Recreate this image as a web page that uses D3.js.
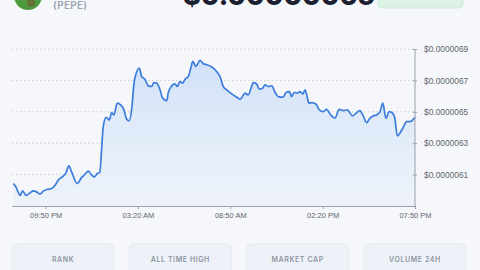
<!DOCTYPE html>
<html>
<head>
<meta charset="utf-8">
<style>
  body { margin: 0; background: #f5f7fa; font-family: Inter, 'Noto Sans', sans-serif; }
  svg { display: block; }
  .grid line { stroke: #c9ced6; stroke-dasharray: 1.5 2.5; }
  .axis text { fill: #5f6670; font-size: 7.5px; font-family: 'Liberation Sans', Arial, sans-serif; }
  .y.axis text { font-size: 8.4px; }
  .axis .domain, .axis .tick line { stroke: #9aa1ab; }
  .card-label { font-size: 7px; font-weight: 600; fill: #8d95a2; letter-spacing: 0.6px; }
</style>
</head>
<body>
<svg width="480" height="270"></svg>
<script src="https://d3js.org/d3.v7.min.js"></script>
<script>
// minutes since 07:50 PM, price in USD
let minutes = [5, 14, 29, 38, 50, 64, 76, 88, 100, 112, 124, 142, 154, 165, 183, 193, 203, 213, 233, 249,
  261, 273, 285, 294, 305, 314, 320, 326, 336, 348, 356, 364, 376, 388, 400, 410, 419, 428, 436, 443,
  455, 463, 475, 487, 499, 507, 517, 529, 538, 553, 558, 571, 582, 591, 600, 610, 618, 630, 639, 646,
  657, 672, 684, 696, 714, 731, 743, 755, 767, 785, 803, 815, 833, 844, 856, 862, 874, 884, 896, 904,
  916, 928, 940, 951, 969, 979, 991, 999, 1008, 1019, 1029, 1039, 1047, 1053, 1061, 1071, 1086, 1098, 1112, 1124,
  1139, 1154, 1169, 1184, 1198, 1217, 1232, 1243, 1255, 1267, 1279, 1291, 1303, 1315, 1325, 1336, 1348, 1360, 1368, 1377,
  1389, 1398, 1410, 1422, 1434, 1440];
let prices = [6.043, 6.021, 5.968, 5.996, 5.968, 5.983, 5.996, 5.990, 5.975, 5.996, 6.005, 6.011, 6.032, 6.064, 6.090, 6.111, 6.156, 6.117, 6.043, 6.082,
  6.103, 6.122, 6.096, 6.085, 6.107, 6.117, 6.256, 6.405, 6.465, 6.448, 6.495, 6.480, 6.555, 6.544, 6.512, 6.452, 6.443, 6.523, 6.683, 6.740,
  6.779, 6.725, 6.708, 6.665, 6.661, 6.686, 6.683, 6.640, 6.587, 6.571, 6.619, 6.665, 6.678, 6.661, 6.693, 6.683, 6.708, 6.725, 6.779, 6.821,
  6.789, 6.827, 6.806, 6.800, 6.785, 6.757, 6.725, 6.661, 6.640, 6.614, 6.593, 6.580, 6.619, 6.608, 6.661, 6.686, 6.678, 6.644, 6.651, 6.672,
  6.661, 6.665, 6.623, 6.597, 6.593, 6.623, 6.629, 6.597, 6.623, 6.619, 6.629, 6.614, 6.640, 6.608, 6.555, 6.559, 6.550, 6.512, 6.501, 6.516,
  6.480, 6.459, 6.516, 6.507, 6.512, 6.474, 6.495, 6.507, 6.474, 6.431, 6.459, 6.474, 6.480, 6.501, 6.555, 6.459, 6.501, 6.491, 6.459, 6.346,
  6.373, 6.401, 6.437, 6.437, 6.452, 6.465].map(d => d * 1e-6);

let xTicks = [120, 450, 780, 1110, 1440];
let xTickLabels = ["09:50 PM", "03:20 AM", "08:50 AM", "02:20 PM", "07:50 PM"];
let yTicks = [6.1e-6, 6.3e-6, 6.5e-6, 6.7e-6, 6.9e-6];
let cardLabels = ["RANK", "ALL TIME HIGH", "MARKET CAP", "VOLUME 24H"];

let data = minutes.map((m, i) => ({ m: m, p: prices[i] }));

let svg = d3.select("svg");

let margin = { top: 49, right: 65, bottom: 64, left: 12 };
let width = 480, height = 270;

let x = d3.scaleLinear().domain([0, 1440]).range([margin.left, width - margin.right]);
let y = d3.scaleLinear().domain([5.9e-6, 6.9e-6]).range([height - margin.bottom, margin.top]);

// header (cut off at the top)
svg.append("circle").attr("cx", 28).attr("cy", -4).attr("r", 14).attr("fill", "#4f9a3f");
svg.append("circle").attr("cx", 31).attr("cy", 3).attr("r", 4).attr("fill", "#7a4a2e").attr("opacity", 0.5);
svg.append("text").attr("x", 53).attr("y", 8.5).text("(PEPE)")
  .attr("fill", "#9aa3b0").attr("font-size", "10px").attr("font-weight", 600).attr("letter-spacing", "0.3px");
svg.append("text").attr("x", 183).attr("y", 5).text("$0.00000065")
  .attr("fill", "#1b2130").attr("font-size", "27px").attr("font-weight", 800);
svg.append("rect").attr("x", 378).attr("y", -10).attr("width", 85).attr("height", 18).attr("rx", 4)
  .attr("fill", "#ddf3e5").attr("stroke", "#cdebd8");

// grid
svg.append("g").attr("class", "grid")
  .selectAll("line").data(yTicks).join("line")
  .attr("x1", margin.left).attr("x2", width - margin.right)
  .attr("y1", d => y(d)).attr("y2", d => y(d));

// area + line
let defs = svg.append("defs");
let grad = defs.append("linearGradient").attr("id", "fillGrad")
  .attr("x1", 0).attr("y1", 0).attr("x2", 0).attr("y2", 1);
grad.append("stop").attr("offset", "0%").attr("stop-color", "#cfe0f8").attr("stop-opacity", 0.95);
grad.append("stop").attr("offset", "100%").attr("stop-color", "#e9f0fa").attr("stop-opacity", 0.6);

defs.append("clipPath").attr("id", "labelClip")
  .append("rect").attr("x", -70).attr("y", 0).attr("width", 123).attr("height", 270);

let area = d3.area()
  .x(d => x(d.m))
  .y0(y(5.9e-6))
  .y1(d => y(d.p))
  .curve(d3.curveMonotoneX);

let line = d3.line()
  .x(d => x(d.m))
  .y(d => y(d.p))
  .curve(d3.curveMonotoneX);

svg.append("path").datum(data).attr("d", area).attr("fill", "url(#fillGrad)");
svg.append("path").datum(data).attr("d", line)
  .attr("fill", "none").attr("stroke", "#3a7ddc").attr("stroke-width", 1.7).attr("stroke-linejoin", "round");

// axes
svg.append("g").attr("class", "x axis")
  .attr("transform", `translate(0,${height - margin.bottom})`)
  .call(d3.axisBottom(x).tickValues(xTicks).tickFormat((d, i) => xTickLabels[i]).tickSize(3).tickSizeOuter(0).tickPadding(4));

svg.append("g").attr("class", "y axis")
  .attr("transform", `translate(${width - margin.right},0)`)
  .attr("clip-path", "url(#labelClip)")
  .call(d3.axisRight(y).tickValues(yTicks).tickFormat(d => "$" + d.toFixed(7)).tickSize(2).tickSizeOuter(0).tickPadding(7))
  .call(g => g.select(".domain").attr("d", `M0,${y(6.9e-6)}V${y(5.9e-6)}`))
  .call(g => g.selectAll(".tick line").attr("x1", -2));

// stat cards
let cardX = d3.scaleBand().domain(cardLabels).range([12, 466]).paddingInner(0.13);
let cards = svg.append("g").selectAll("g").data(cardLabels).join("g")
  .attr("transform", d => `translate(${cardX(d)},244)`);
cards.append("rect").attr("width", cardX.bandwidth()).attr("height", 40).attr("rx", 5)
  .attr("fill", "#eef2f8").attr("stroke", "#e4e9f1");
cards.append("text").attr("class", "card-label")
  .attr("x", cardX.bandwidth() / 2).attr("y", 17.8).attr("text-anchor", "middle").text(d => d);
</script>
</body>
</html>
